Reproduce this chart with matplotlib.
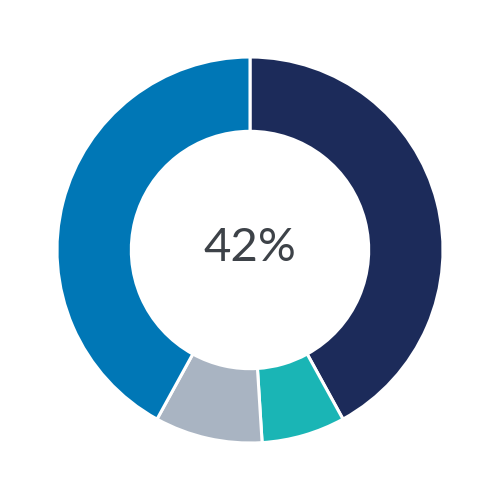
import matplotlib
matplotlib.use("Agg")
import matplotlib.pyplot as plt

labels = ["Navy", "Teal", "Gray", "Blue"]
values = [42, 7, 9, 42]
colors = ["#1c2b5a", "#1ab5b5", "#a9b4c2", "#0077b6"]
center_text = "42%"

fig = plt.figure(figsize=(5, 5), dpi=100)
ax = fig.add_axes([0, 0, 1, 1])
ax.pie(values, colors=colors, startangle=90, counterclock=False,
       radius=1.0, wedgeprops=dict(width=0.385, edgecolor="white", linewidth=2.2))
lim = 250 / 193
ax.set_xlim(-lim, lim)
ax.set_ylim(-lim, lim)
ax.set_aspect("equal")
ax.axis("off")
ax.text(0, 0.01, center_text, ha="center", va="center", fontsize=34,
        color="#3d4248", family="Lato", fontweight="normal")
fig.savefig("out.png", dpi=100)
